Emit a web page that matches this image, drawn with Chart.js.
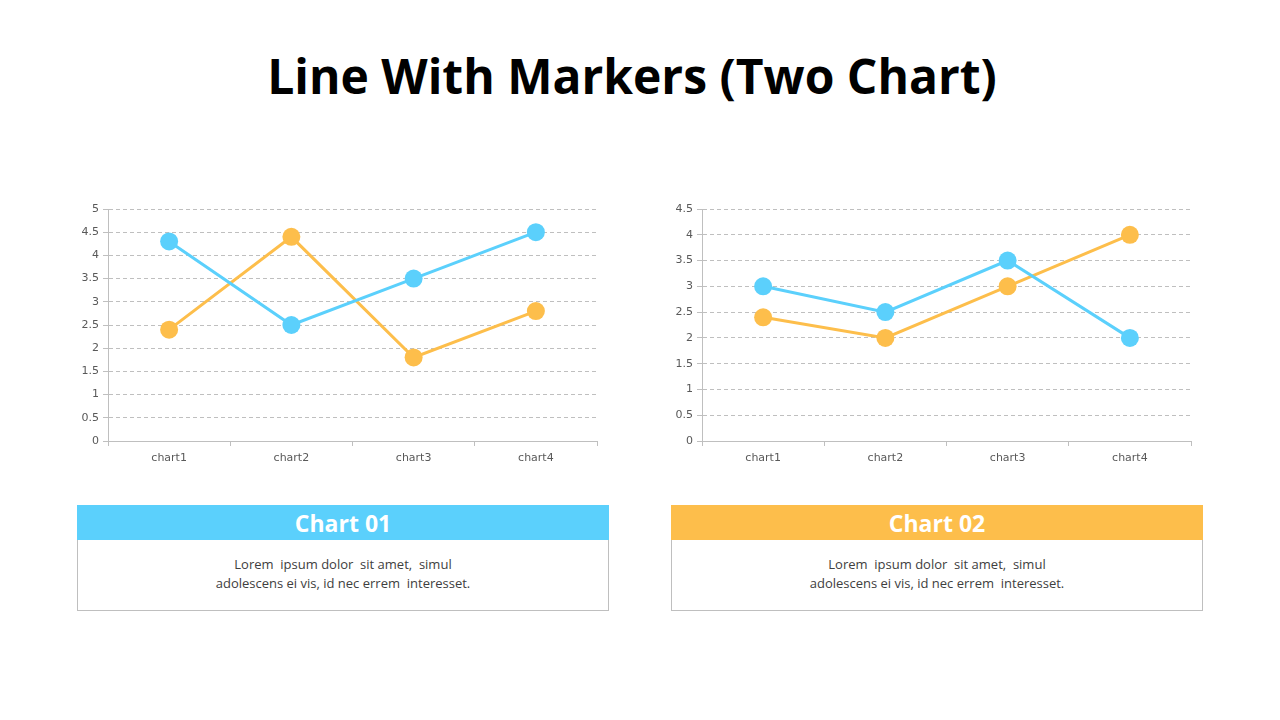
<!DOCTYPE html>
<html lang="en">
<head>
    <meta charset="UTF-8">
    <title>Line With Markers (Two Chart)</title>
    <script src="https://cdn.jsdelivr.net/npm/chart.js"></script>
    <style>
        body{margin:0;width:1280px;height:720px;background:#fff;font-family:'Open Sans',sans-serif;position:relative;overflow:hidden}
        h1{position:absolute;left:-8px;top:45px;width:1280px;margin:0;text-align:center;font-size:48px;font-weight:700;color:#000;line-height:62px}
        .chart-box{position:absolute;top:195px;width:546px;height:276px}
        .card{position:absolute;top:505px;width:532px}
        .card .head{height:35px;line-height:36px;text-align:center;color:#fff;font-weight:700;font-size:23px}
        .card .body{height:71px;border:1px solid #bfbfbf;border-top:none;box-sizing:border-box;text-align:center;color:#404040;font-size:13px;line-height:19px;padding-top:15px}
    </style>
</head>
<body>
    <h1>Line With Markers (Two Chart)</h1>
    <div class="chart-box" style="left:60px"><canvas id="chart1"></canvas></div>
    <div class="chart-box" style="left:654px"><canvas id="chart2"></canvas></div>
    <div class="card" style="left:77px">
        <div class="head" style="background:#5BD0FC">Chart 01</div>
        <div class="body">Lorem&nbsp; ipsum&nbsp;dolor&nbsp; sit amet,&nbsp; simul<br>adolescens ei vis, id nec errem&nbsp; interesset.</div>
    </div>
    <div class="card" style="left:671px">
        <div class="head" style="background:#FDBE4B">Chart 02</div>
        <div class="body">Lorem&nbsp; ipsum&nbsp;dolor&nbsp; sit amet,&nbsp; simul<br>adolescens ei vis, id nec errem&nbsp; interesset.</div>
    </div>
    <script>
        const categories = ['chart1', 'chart2', 'chart3', 'chart4'];
        const chart1Blue = [4.3, 2.5, 3.5, 4.5];
        const chart1Orange = [2.4, 4.4, 1.8, 2.8];
        const chart2Blue = [3, 2.5, 3.5, 2];
        const chart2Orange = [2.4, 2, 3, 4];
        const chart1Max = 5;
        const chart2Max = 4.5;

        const BLUE = '#5BD0FC';
        const ORANGE = '#FDBE4B';
        const GRID = '#BFBFBF';
        const tickFont = { family: "'DejaVu Sans', sans-serif", size: 11 };

        function series(data, color) {
            return {
                data, borderColor: color, backgroundColor: color,
                borderWidth: 3, pointRadius: 9, pointHoverRadius: 9,
                pointBorderWidth: 0, tension: 0
            };
        }

        function makeChart(id, blue, orange, yMax) {
            new Chart(document.getElementById(id), {
                type: 'line',
                data: { labels: categories, datasets: [series(blue, BLUE), series(orange, ORANGE)] },
                options: {
                    responsive: true, maintainAspectRatio: false, animation: false,
                    layout: { padding: { top: 14, right: 0, left: 0, bottom: 0 } },
                    plugins: { legend: { display: false }, tooltip: { enabled: false } },
                    scales: {
                        x: {
                            offset: true,
                            grid: { offset: true, drawOnChartArea: false, drawTicks: true, tickLength: 5, color: GRID },
                            border: { display: true, color: GRID },
                            ticks: { color: '#595959', font: tickFont, padding: 6 },
                            afterFit(scale) { scale.height = 30; }
                        },
                        y: {
                            min: 0, max: yMax,
                            grid: { color: GRID, drawTicks: true, tickLength: 5 },
                            border: { display: true, color: GRID, dash: [4, 3] },
                            ticks: { stepSize: 0.5, color: '#595959', font: tickFont, padding: 4, callback: v => String(v) },
                            afterFit(scale) { scale.width = 48; }
                        }
                    }
                }
            });
        }

        makeChart('chart1', chart1Blue, chart1Orange, chart1Max);
        makeChart('chart2', chart2Blue, chart2Orange, chart2Max);
    </script>
</body>
</html>
